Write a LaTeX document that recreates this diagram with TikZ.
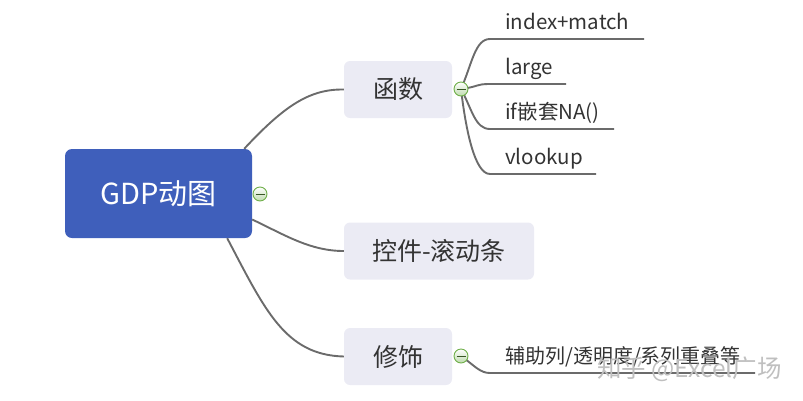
\documentclass[tikz,border=0pt]{standalone}
\usepackage{fontspec}
\setmainfont{Noto Sans CJK SC}
\usetikzlibrary{positioning, calc, shadings}

\definecolor{rootblue}{HTML}{3F5FBB}
\definecolor{topicgray}{HTML}{EBEBF4}
\definecolor{linegray}{HTML}{6B6B6B}
\definecolor{textgray}{HTML}{333333}
\definecolor{togglegreen}{HTML}{6FAF4A}

\begin{document}
\begin{tikzpicture}[
    x=1pt, y=-1pt,
    % Topic styles
    rootbox/.style={draw=none, fill=rootblue, rounded corners=7pt, minimum width=187pt, minimum height=89pt, inner sep=0pt, text=white, font=\fontsize{29}{29}\selectfont},
    topicbox/.style={draw=none, fill=topicgray, rounded corners=6pt, minimum height=57pt, inner sep=0pt, text=textgray, font=\fontsize{25}{25}\selectfont},
    leaflabel/.style={anchor=base west, inner sep=0pt, text=textgray, font=\fontsize{20.5}{20.5}\selectfont},
    toggle/.style={circle, draw=togglegreen, line width=0.9pt, top color=white, bottom color=togglegreen!45, minimum size=14pt, inner sep=0pt},
    connector/.style={draw=linegray, line width=1.9pt},
    watermark/.style={anchor=base west, inner sep=0pt, text=black!25, font=\fontsize{24.5}{24.5}\selectfont}
]

\useasboundingbox (0,0) rectangle (803,400);

% Topics
\node[rootbox] (root) at (158.5,193.5) {GDP动图};
\node[topicbox, minimum width=108pt] (func) at (398,89.5) {函数};
\node[topicbox, minimum width=190pt] (ctrl) at (439,251) {控件-滚动条};
\node[topicbox, minimum width=108pt] (deco) at (398,356.5) {修饰};

% Leaf labels
\node[leaflabel] (index) at (505,29) {index+match};
\node[leaflabel] (large) at (505,74) {large};
\node[leaflabel] (ifna) at (505,119) {if嵌套NA()};
\node[leaflabel] (vlookup) at (505,164) {vlookup};
\node[leaflabel, font=\fontsize{20}{20}\selectfont] (helper) at (505,363) {辅助列/透明度/系列重叠等};

% Underline ends
\coordinate (index_end) at (644,39);
\coordinate (large_end) at (566,84);
\coordinate (ifna_end) at (614,129);
\coordinate (vlookup_end) at (596,174);
\coordinate (helper_end) at (755,373);

% Collapse marker positions
\coordinate (func_center) at (461,89);
\coordinate (deco_center) at (461,356);

% Root connections
\draw[connector] (root.north east) ++(-8,0) .. controls (285,105) and (310,89) .. (func.west);
\draw[connector] (root.east) ++(0,26) .. controls (285,235) and (310,251) .. (ctrl.west);
\draw[connector] (root.south east) ++(-25,0) .. controls (265,310) and (285,355) .. (deco.west);

% Leaf connections
\foreach \leaf/\y/\cx in {index/39/472, large/84/480, ifna/129/472, vlookup/174/466} {
    \draw[connector] (func_center) .. controls (\cx,{(\y+89)/2}) and (475,\y) .. (490,\y) -- (\leaf_end);
}
\draw[connector] (deco_center) .. controls (475,366) and (480,373) .. (490,373) -- (helper_end);

% Collapse markers
\node[toggle] (root_toggle) at (260,194) {};
\node[toggle] (func_toggle) at (func_center) {};
\node[toggle] (deco_toggle) at (deco_center) {};
\foreach \t in {root_toggle, func_toggle, deco_toggle} {
    \draw[togglegreen!50!black, line width=0.8pt] ([xshift=-4.5pt]\t.center) -- ([xshift=4.5pt]\t.center);
}

% Watermark
\node[watermark] (mark) at (597,377) {知乎 @Excel广场};

\end{tikzpicture}
\end{document}
